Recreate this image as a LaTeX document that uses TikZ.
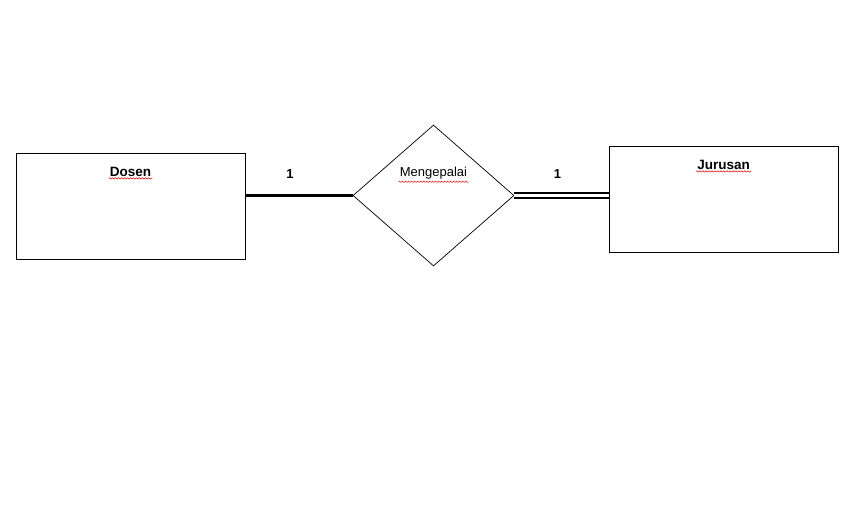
\documentclass[tikz,border=0pt]{standalone}
\usepackage{fontspec}
\setmainfont{Liberation Sans}
\usepackage{tikz}
\usetikzlibrary{shapes.geometric,positioning,decorations.pathmorphing}

\tikzset{
  entity/.style={draw, line width=1pt, minimum width=229pt, minimum height=106pt, inner sep=0pt},
  relation/.style={draw, diamond, line width=0.7pt, minimum width=161pt, minimum height=141pt, aspect=1.14, inner sep=0pt},
  title/.style={font=\fontsize{13.5}{16}\selectfont\bfseries, inner sep=1pt},
  rtitle/.style={font=\fontsize{13}{16}\selectfont, inner sep=1pt},
  card/.style={font=\fontsize{13}{16}\selectfont\bfseries},
  link/.style={line width=3pt},
  total/.style={double, line width=2.6pt, double distance=2.4pt},
  spell/.style={red!85!black, line width=0.5pt, decorate, decoration={snake, segment length=3pt, amplitude=0.7pt}}
}

\begin{document}
\begin{tikzpicture}[x=1pt, y=-1pt]
\useasboundingbox (0,0) rectangle (851,507);

% entities and relation
\node[entity] (dosen) at (130.5,206) {};
\node[entity] (jurusan) at (723.5,199) {};
\node[relation] (kepala) at (433.5,195.5) {};

% texts
\node[title] (dosenlbl) at ([yshift=-19pt]dosen.north) {Dosen};
\node[title] (jurusanlbl) at ([yshift=-19pt]jurusan.north) {Jurusan};
\node[rtitle] (kepalalbl) at ([yshift=22pt]kepala.center) {Mengepalai};

% spelling marks
\foreach \w in {dosenlbl, jurusanlbl, kepalalbl}
\draw[spell] ([yshift=-1pt]\w.south west) -- ([yshift=-1pt]\w.south east);

% connectors
\draw[link] (kepala.west) -- (kepala.west -| dosen.east)
   node[card, midway, yshift=21pt, xshift=-9pt] (card1) {1};
\draw[total] (kepala.east) -- (kepala.east -| jurusan.west)
   node[card, midway, yshift=21pt, xshift=-4pt] (card2) {1};
\end{tikzpicture}
\end{document}
